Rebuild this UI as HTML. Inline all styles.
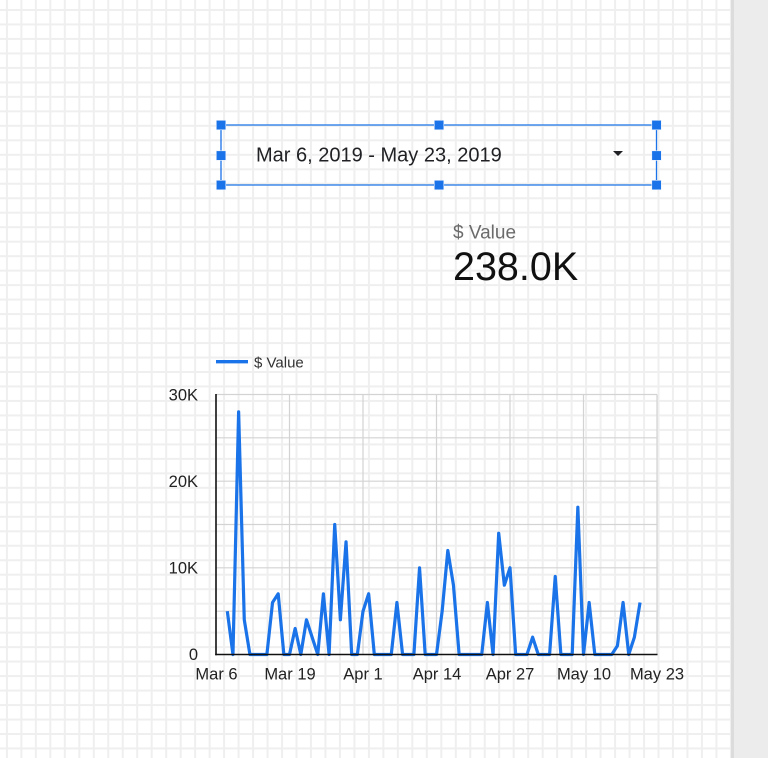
<!DOCTYPE html>
<html>
<head>
<meta charset="utf-8">
<style>
html,body{margin:0;padding:0;background:#fff;}
body{width:768px;height:758px;overflow:hidden;position:relative;font-family:"Liberation Sans",Arial,sans-serif;}
svg{position:absolute;left:0;top:0;}
</style>
</head>
<body>
<svg width="768" height="758" viewBox="0 0 768 758" xmlns="http://www.w3.org/2000/svg">
  <defs>
    <pattern id="grid" x="5.9" y="9" width="14.48" height="14.48" patternUnits="userSpaceOnUse">
      <rect x="0" y="0" width="2" height="14.48" fill="#efefef"/>
      <rect x="0" y="0" width="14.48" height="2" fill="#efefef"/>
    </pattern>
  </defs>
  <rect x="0" y="0" width="731" height="758" fill="#fff"/>
  <rect x="0" y="0" width="731" height="758" fill="url(#grid)"/>
  <!-- right panel -->
  <rect x="731" y="0" width="3" height="758" fill="#dcdcdc"/>
  <rect x="734" y="0" width="34" height="758" fill="#ececec"/>

  <!-- date range control -->
  <g stroke="#1a73e8" stroke-width="1.3" fill="none">
    <line x1="221" y1="125" x2="656.5" y2="125"/>
    <line x1="221" y1="185" x2="656.5" y2="185"/>
    <line x1="221" y1="125" x2="221" y2="185"/>
    <line x1="656.5" y1="125" x2="656.5" y2="185"/>
  </g>
  <g fill="#1a73e8" stroke="#e8f0fe" stroke-width="0.6">
    <rect x="216.3" y="120.3" width="9.5" height="9.5"/>
    <rect x="434.3" y="120.3" width="9.5" height="9.5"/>
    <rect x="651.8" y="120.3" width="9.5" height="9.5"/>
    <rect x="216.3" y="150.8" width="9.5" height="9.5"/>
    <rect x="651.8" y="150.8" width="9.5" height="9.5"/>
    <rect x="216.3" y="180.3" width="9.5" height="9.5"/>
    <rect x="434.3" y="180.3" width="9.5" height="9.5"/>
    <rect x="651.8" y="180.3" width="9.5" height="9.5"/>
  </g>
  <text x="256" y="161.5" font-family="Liberation Sans, Arial, sans-serif" font-size="20" fill="#202124">Mar 6, 2019 - May 23, 2019</text>
  <polygon points="613,151 623,151 618,156" fill="#202124"/>

  <!-- scorecard -->
  <text x="453" y="238.5" font-family="Liberation Sans, Arial, sans-serif" font-size="19" fill="#6b6b6b">$ Value</text>
  <text x="453" y="280" font-family="Liberation Sans, Arial, sans-serif" font-size="39.5" fill="#111">238.0K</text>

  <!-- legend -->
  <line x1="216" y1="361.7" x2="248" y2="361.7" stroke="#1a73e8" stroke-width="3.4"/>
  <text x="254" y="367.3" font-family="Liberation Sans, Arial, sans-serif" font-size="15" fill="#333">$ Value</text>

  <!-- chart gridlines -->
  <g stroke="#d3d3d3" stroke-width="1.2" fill="none">
    <line x1="216" y1="394.5" x2="657" y2="394.5"/>
    <line x1="216" y1="437.8" x2="657" y2="437.8"/>
    <line x1="216" y1="481.2" x2="657" y2="481.2"/>
    <line x1="216" y1="524.5" x2="657" y2="524.5"/>
    <line x1="216" y1="567.8" x2="657" y2="567.8"/>
    <line x1="216" y1="611.2" x2="657" y2="611.2"/>
    <line x1="289.5" y1="394.5" x2="289.5" y2="654.5"/>
    <line x1="363" y1="394.5" x2="363" y2="654.5"/>
    <line x1="436.5" y1="394.5" x2="436.5" y2="654.5"/>
    <line x1="510" y1="394.5" x2="510" y2="654.5"/>
    <line x1="583.5" y1="394.5" x2="583.5" y2="654.5"/>
    <line x1="657" y1="394.5" x2="657" y2="654.5"/>
  </g>

  <!-- y tick labels -->
  <g font-family="Liberation Sans, Arial, sans-serif" font-size="16.5" fill="#222" text-anchor="end">
    <text x="198" y="400.5">30K</text>
    <text x="198" y="487">20K</text>
    <text x="198" y="573.5">10K</text>
    <text x="198" y="660">0</text>
  </g>
  <!-- x tick labels -->
  <g font-family="Liberation Sans, Arial, sans-serif" font-size="16.5" fill="#222" text-anchor="middle">
    <text x="216.5" y="679.5">Mar 6</text>
    <text x="290" y="679.5">Mar 19</text>
    <text x="363" y="679.5">Apr 1</text>
    <text x="437" y="679.5">Apr 14</text>
    <text x="510" y="679.5">Apr 27</text>
    <text x="584" y="679.5">May 10</text>
    <text x="657" y="679.5">May 23</text>
  </g>

  <!-- series -->
  <polyline fill="none" stroke="#1a73e8" stroke-width="3.2" stroke-linejoin="round" points="
    227.31,611.2 232.96,654.5 238.62,411.8 244.27,619.8 249.92,654.5 255.58,654.5 261.23,654.5 266.88,654.5
    272.54,602.5 278.19,593.8 283.85,654.5 289.50,654.5 295.15,628.5 300.81,654.5 306.46,619.8 312.12,637.2
    317.77,654.5 323.42,593.8 329.08,654.5 334.73,524.5 340.38,619.8 346.04,541.8 351.69,654.5 357.35,654.5
    363.00,611.2 368.65,593.8 374.31,654.5 379.96,654.5 385.62,654.5 391.27,654.5 396.92,602.5 402.58,654.5
    408.23,654.5 413.88,654.5 419.54,567.8 425.19,654.5 430.85,654.5 436.50,654.5 442.15,611.2 447.81,550.5
    453.46,585.2 459.12,654.5 464.77,654.5 470.42,654.5 476.08,654.5 481.73,654.5 487.38,602.5 493.04,654.5
    498.69,533.2 504.35,585.2 510.00,567.8 515.65,654.5 521.31,654.5 526.96,654.5 532.62,637.2 538.27,654.5
    543.92,654.5 549.58,654.5 555.23,576.5 560.88,654.5 566.54,654.5 572.19,654.5 577.85,507.2 583.50,654.5
    589.15,602.5 594.81,654.5 600.46,654.5 606.12,654.5 611.77,654.5 617.42,645.8 623.08,602.5 628.73,654.5
    634.38,637.2 640.04,602.5"/>

  <!-- axes -->
  <g stroke="#111" stroke-width="1.6" fill="none">
    <line x1="216" y1="394" x2="216" y2="655.3"/>
    <line x1="215.2" y1="654.5" x2="657.5" y2="654.5"/>
  </g>
</svg>
</body>
</html>
